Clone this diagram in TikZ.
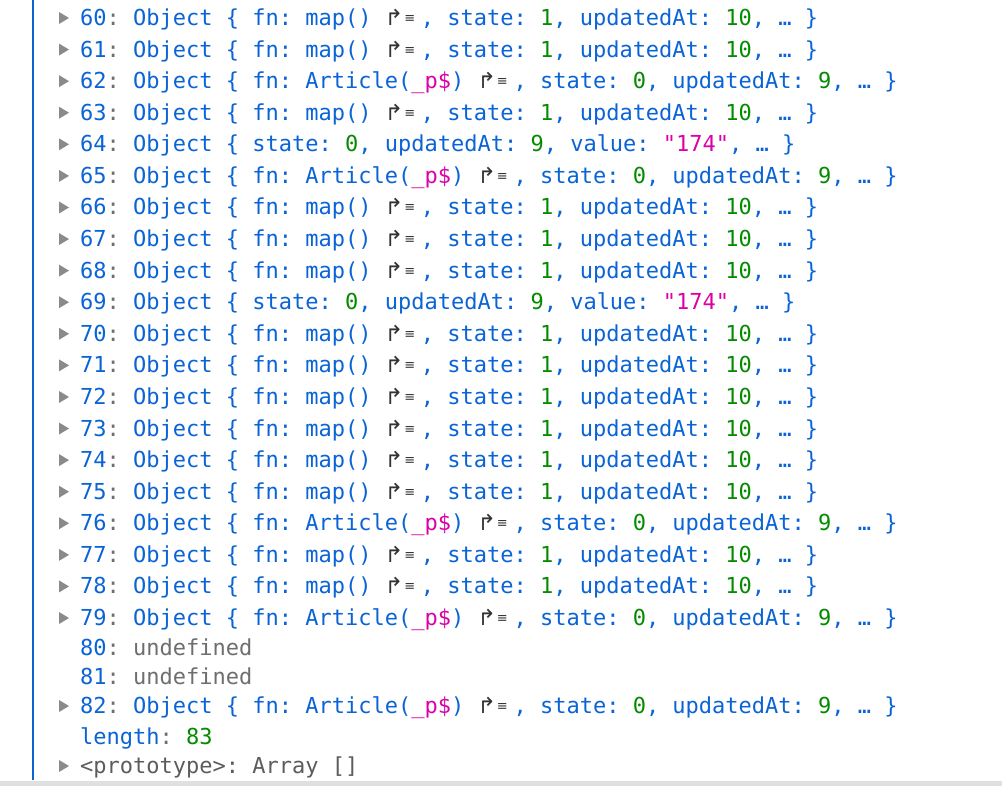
\documentclass[tikz,border=0pt]{standalone}
\usepackage{fontspec}
\setmonofont{DejaVu Sans Mono}
\newfontfamily\symf{DejaVu Sans}
\definecolor{cblue}{HTML}{0A64D6}
\definecolor{cgreen}{HTML}{058B00}
\definecolor{cmag}{HTML}{DD00A9}
\definecolor{cgray}{HTML}{6E6E6E}
\definecolor{cdark}{HTML}{333333}
\definecolor{tri}{HTML}{8A8A8A}
\newcommand\Gn[1]{\textcolor{cgreen}{#1}}
\newcommand\Mg[1]{\textcolor{cmag}{#1}}
\newcommand\Cl{\textcolor{cgray}{:}}
\newcommand\Ic{\makebox[36pt][l]{\textcolor{cdark}{\symf ↱\hspace{1pt}\raisebox{3pt}{\fontsize{13}{13}\selectfont ≡}}}}
\newcommand\Mp{\{ fn: map() \Ic, state: \Gn{1}, updatedAt: \Gn{10}, … \}}
\newcommand\Ar{\{ fn: Article(\Mg{\_p\$}) \Ic, state: \Gn{0}, updatedAt: \Gn{9}, … \}}
\newcommand\Vl{\{ state: \Gn{0}, updatedAt: \Gn{9}, value: \Mg{"174"}, … \}}
\tikzset{line/.style={anchor=base west,inner sep=0pt,font=\ttfamily\fontsize{22}{22}\selectfont,text=cblue},
tri/.style={fill=tri}}
\begin{document}
\begin{tikzpicture}[x=1pt,y=-1pt]
\useasboundingbox (0,0) rectangle (1002,786);
\fill[white] (0,0) rectangle (1002,786);
\draw[cblue,line width=2pt] (33,0) -- (33,780);
\fill[black!12] (0,781) rectangle (1002,786);
\foreach \n/\k in {60/M,61/M,62/A,63/M,64/V,65/A,66/M,67/M,68/M,69/V,70/M,71/M,72/M,73/M,74/M,75/M,76/A,77/M,78/M,79/A}{
  \pgfmathsetmacro\yy{18+31.58*(\n-60)}
  \fill[tri] (59,\yy-6) -- (69,\yy) -- (59,\yy+6) -- cycle;
  \node[line] (r\n) at (80,\yy+7.5) {\n\Cl{} Object \if\k M\Mp\else\if\k A\Ar\else\Vl\fi\fi};
}
\node[line] (r80) at (80,655.5) {80\Cl{} \textcolor{cgray}{undefined}};
\node[line] (r81) at (80,684.5) {81\Cl{} \textcolor{cgray}{undefined}};
\fill[tri] (59,700) -- (69,706) -- (59,712) -- cycle;
\node[line] (r82) at (80,713.5) {82\Cl{} Object \Ar};
\node[line] (len) at (80,744.5) {length\Cl{} \Gn{83}};
\fill[tri] (59,760) -- (69,766) -- (59,772) -- cycle;
\node[line,text=cdark!80] (proto) at (80,773.5) {<prototype>: Array []};
\end{tikzpicture}
\end{document}
